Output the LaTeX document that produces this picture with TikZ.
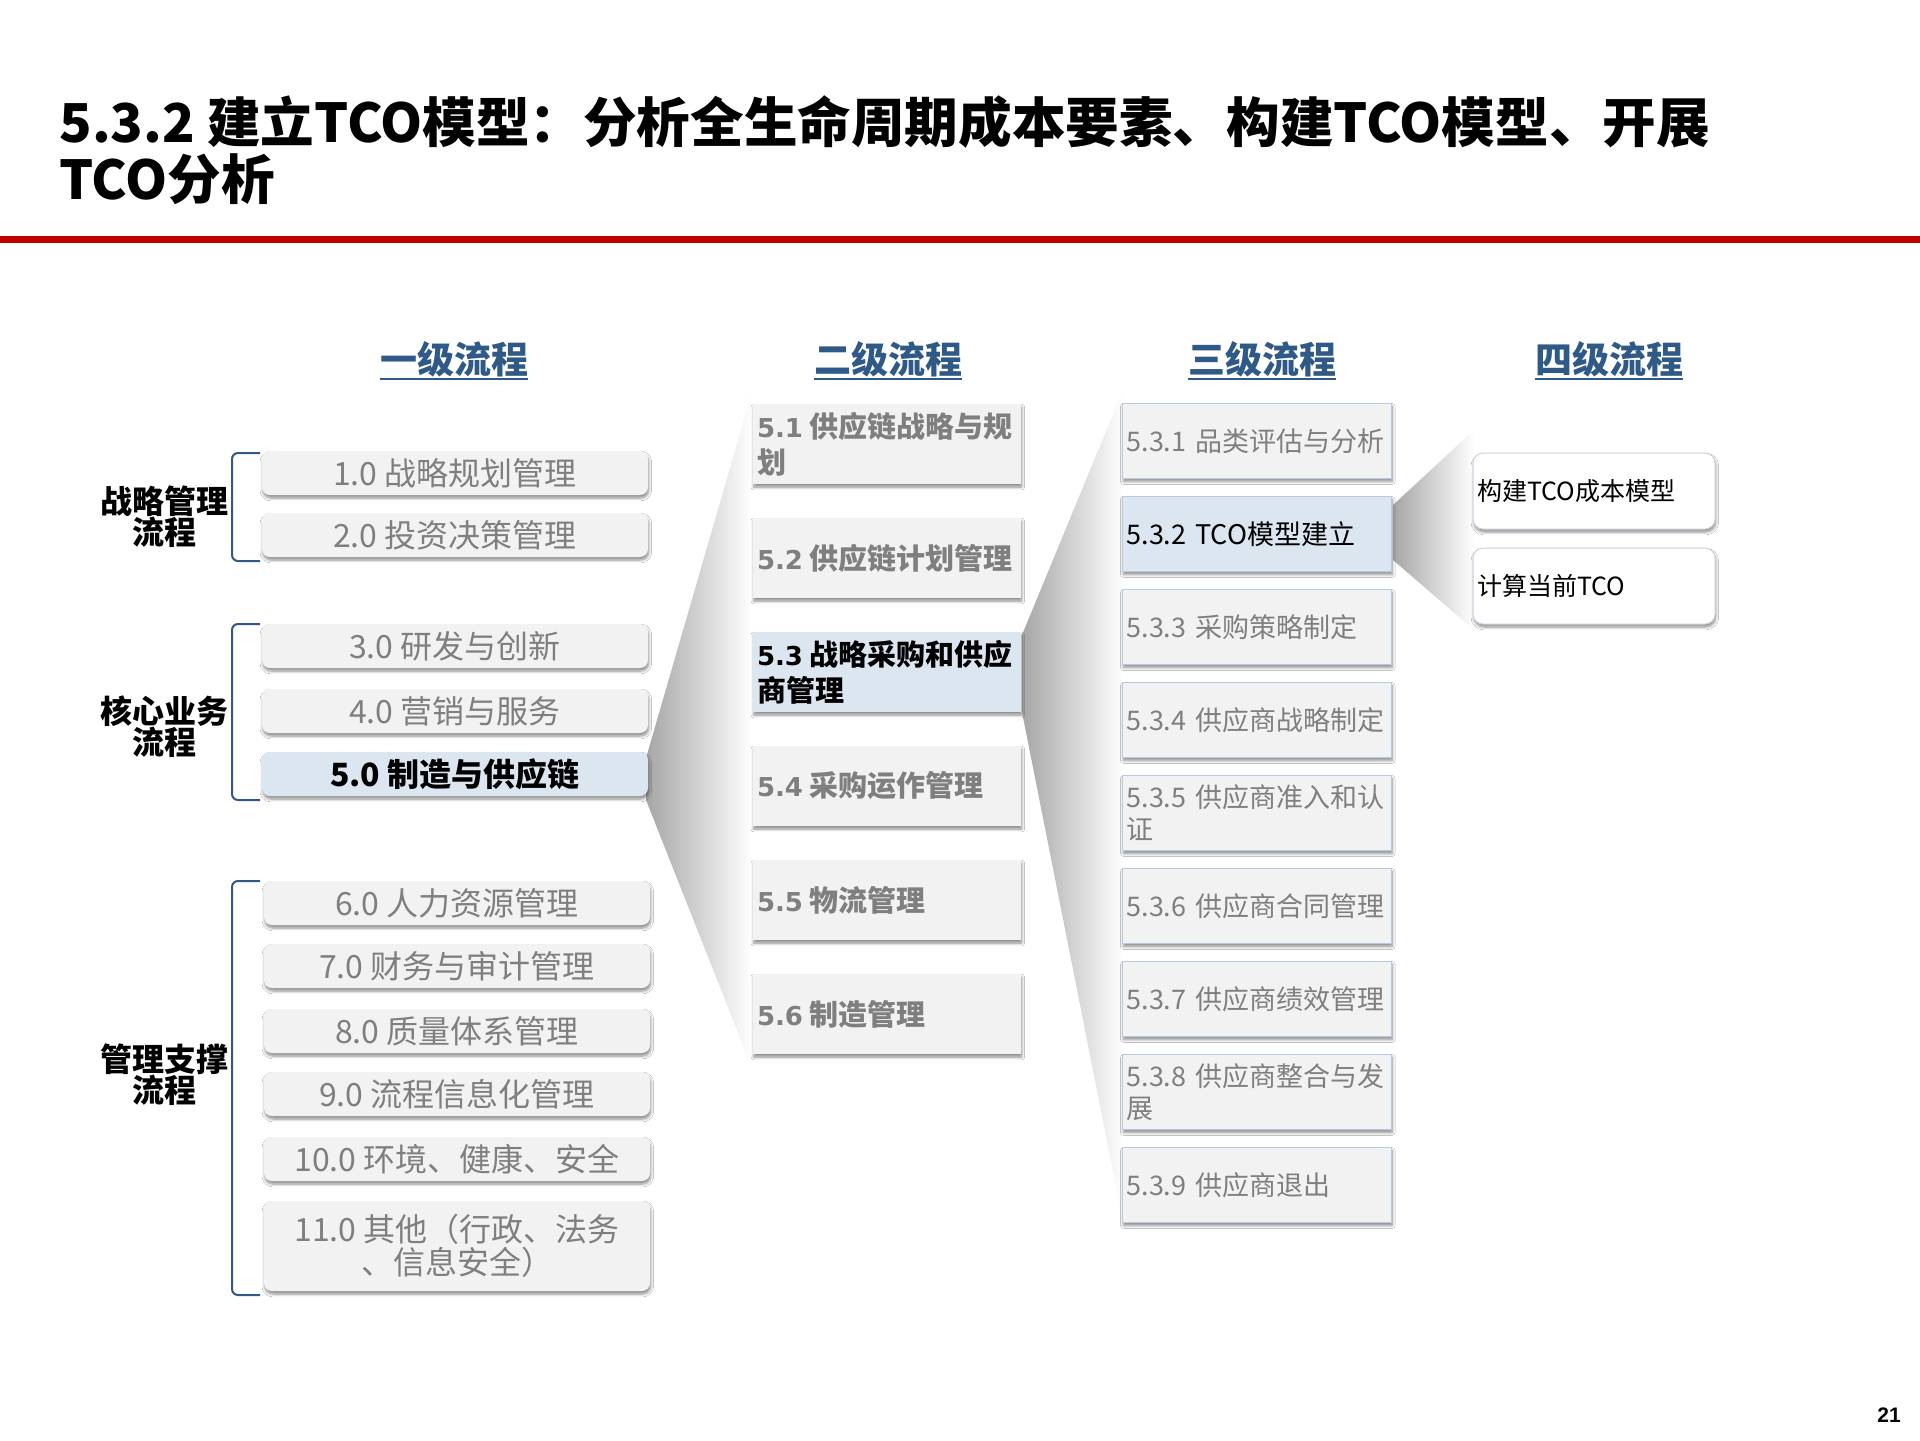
\documentclass[tikz,border=0pt]{standalone}
\usepackage{fontspec}
\setmainfont{Noto Sans CJK SC}
\newfontfamily\dejab{DejaVu Sans}
\newfontfamily\arialf{Liberation Sans}
\usetikzlibrary{shadows.blur,calc}
\definecolor{hdr}{HTML}{2F5A87}
\definecolor{txtgray}{HTML}{7F7F7F}
\definecolor{boxgray}{HTML}{F2F2F2}
\definecolor{selblue}{HTML}{DCE6F1}
\definecolor{bordblue}{HTML}{B9CAE0}
\definecolor{lfborder}{HTML}{C9D3DF}
\definecolor{redline}{HTML}{C00000}
\definecolor{fang}{HTML}{A6A6A6}
\newcommand{\nb}[1]{{\dejab\bfseries\fontsize{13pt}{18pt}\selectfont #1}\hspace{3pt}}
\tikzset{
  shd/.style={blur shadow={shadow xshift=0.4pt, shadow yshift=-1.5pt, shadow blur radius=1.4pt, shadow blur steps=6, shadow opacity=45}},
  lvA/.style={shd, rectangle, rounded corners=4pt, fill=boxgray, minimum width=193pt, minimum height=22pt, inner sep=0pt, align=center, text=txtgray, font=\fontsize{16pt}{14.5pt}\selectfont},
  lvB/.style={shd, rectangle, fill=boxgray, text width=130pt, inner xsep=2pt, inner ysep=0pt, minimum height=40pt, align=left, text=txtgray, font=\fontsize{14.5pt}{18pt}\selectfont\bfseries},
  lvC/.style={shd, rectangle, fill=boxgray, draw=bordblue, line width=0.5pt, text width=130.5pt, inner xsep=2pt, inner ysep=0pt, minimum height=37.5pt, align=left, text=txtgray, font=\fontsize{13.5pt}{16pt}\selectfont},
  lvD/.style={shd, rectangle, rounded corners=5pt, fill=white, draw=lfborder, line width=0.5pt, text width=117pt, inner xsep=2pt, inner ysep=0pt, minimum height=38pt, align=left, text=black, font=\fontsize{12.5pt}{15pt}\selectfont},
  grp/.style={inner sep=0pt, align=center, text=black, font=\fontsize{16pt}{15.5pt}\selectfont\bfseries},
  hdrtxt/.style={inner sep=0pt, text=hdr, font=\fontsize{18.5pt}{20pt}\selectfont\bfseries},
  uline/.style={draw=hdr, line width=1.2pt},
  brk/.style={draw=hdr, line width=1pt, rounded corners=3pt},
  fan/.style={left color=fang, right color=white},
  ttl/.style={anchor=base west, inner sep=0pt, font=\fontsize{26.8pt}{28pt}\selectfont\bfseries}
}
\begin{document}
\begin{tikzpicture}[x=0.5pt,y=-0.5pt]
\useasboundingbox (0,0) rectangle (1920,1440);
\fill[white] (0,0) rectangle (1920,1440);

% title
\node[ttl] (t1) at (59,142) {5.3.2 建立TCO模型：分析全生命周期成本要素、构建TCO模型、开展};
\node[ttl] (t2) at (59,199) {TCO分析};
\fill[redline] (0,236) rectangle (1920,243);

% headers
\node[hdrtxt] (h1) at (454,359) {一级流程};
\node[hdrtxt] (h2) at (888,359) {二级流程};
\node[hdrtxt] (h3) at (1262,359) {三级流程};
\node[hdrtxt] (h4) at (1609,359) {四级流程};
\foreach \h in {h1,h2,h3,h4}{
  \draw[uline] ($(\h.south west)+(0,2)$) -- ($(\h.south east)+(0,2)$);
}

% fans
\shade[fan] (646,758) -- (752,392) -- (752,1068) -- (646,800) -- cycle;
\shade[fan] (1022,635) -- (1123,390) -- (1123,1222) -- (1022,712) -- cycle;
\shade[fan] (1393,505) -- (1474,430) -- (1474,630) -- (1393,560) -- cycle;

% brackets
\draw[brk] (260,453) -- (232,453) -- (232,561) -- (260,561);
\draw[brk] (260,624) -- (232,624) -- (232,800) -- (260,800);
\draw[brk] (260,881) -- (232,881) -- (232,1295) -- (260,1295);

% group labels
\node[grp] (g1) at (164,517) {战略管理\\流程};
\node[grp] (g2) at (164,727) {核心业务\\流程};
\node[grp] (g3) at (164,1075) {管理支撑\\流程};

% level 1
\node[lvA] (p1) at (455,473) {1.0 战略规划管理};
\node[lvA] (p2) at (455,535) {2.0 投资决策管理};
\node[lvA] (p3) at (455,646) {3.0 研发与创新};
\node[lvA] (p4) at (455,711) {4.0 营销与服务};
\node[lvA, fill=selblue, text=black, font=\fontsize{16pt}{16pt}\selectfont\bfseries] (p5) at (455,774) {5.0 制造与供应链};
\node[lvA] (p6) at (457,903) {6.0 人力资源管理};
\node[lvA] (p7) at (457,966) {7.0 财务与审计管理};
\node[lvA] (p8) at (457,1031) {8.0 质量体系管理};
\node[lvA] (p9) at (457,1094) {9.0 流程信息化管理};
\node[lvA] (p10) at (457,1159) {10.0 环境、健康、安全};
\node[lvA, minimum height=45pt] (p11) at (457,1246) {11.0 其他（行政、法务\\、信息安全）};

% level 2
\node[lvB] (s1) at (887,444) {\nb{5.1}供应链战略与规\\划};
\node[lvB] (s2) at (887,558) {\nb{5.2}供应链计划管理};
\node[lvB, fill=selblue, text=black] (s3) at (887,672) {\nb{5.3}战略采购和供应\\商管理};
\node[lvB] (s4) at (887,786) {\nb{5.4}采购运作管理};
\node[lvB] (s5) at (887,900) {\nb{5.5}物流管理};
\node[lvB] (s6) at (887,1014) {\nb{5.6}制造管理};

% level 3
\node[lvC] (c1) at (1257,441) {5.3.1 品类评估与分析};
\node[lvC, fill=selblue, text=black] (c2) at (1257,534) {5.3.2 TCO模型建立};
\node[lvC] (c3) at (1257,627) {5.3.3 采购策略制定};
\node[lvC] (c4) at (1257,720) {5.3.4 供应商战略制定};
\node[lvC] (c5) at (1257,813) {5.3.5 供应商准入和认\\证};
\node[lvC] (c6) at (1257,906) {5.3.6 供应商合同管理};
\node[lvC] (c7) at (1257,999) {5.3.7 供应商绩效管理};
\node[lvC] (c8) at (1257,1092) {5.3.8 供应商整合与发\\展};
\node[lvC] (c9) at (1257,1185) {5.3.9 供应商退出};

% level 4
\node[lvD] (f1) at (1594,491) {构建TCO成本模型};
\node[lvD] (f2) at (1594,586) {计算当前TCO};

% page number
\node[inner sep=0pt, font=\arialf\bfseries\fontsize{10.5pt}{11pt}\selectfont] (pg) at (1889,1415) {21};
\end{tikzpicture}
\end{document}
